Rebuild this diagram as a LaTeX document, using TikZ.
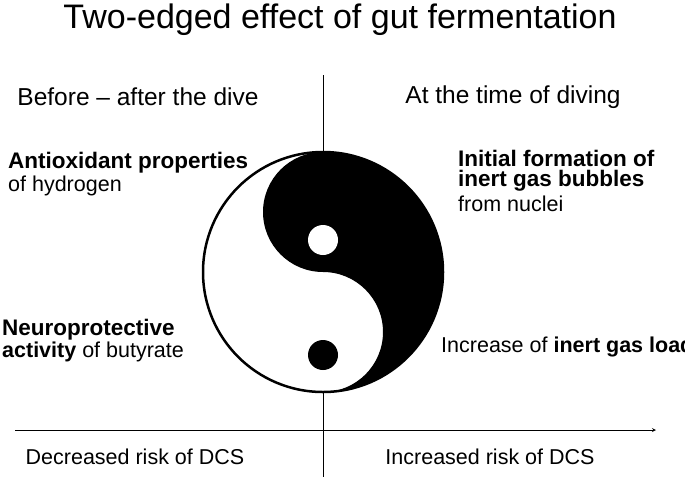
\documentclass[tikz,border=0pt]{standalone}
\usepackage{fontspec}
\setmainfont{Liberation Sans}
\begin{document}
\begin{tikzpicture}[x=1pt,y=-1pt,
  lbl/.style={anchor=west,inner sep=0pt,font=\fontsize{21.5}{24}\selectfont},
  blbl/.style={anchor=west,inner sep=0pt,font=\fontsize{22.5}{24}\selectfont},
  hdr/.style={inner sep=0pt,font=\fontsize{24.5}{28}\selectfont}]
\useasboundingbox (0,0) rectangle (685,477);
\node[inner sep=0pt,font=\fontsize{34}{40}\selectfont] (title) at (340,20) {Two-edged effect of gut fermentation};
\coordinate (vt) at (323,75); \coordinate (vb) at (323,477);
\draw[line width=0.8pt] (vt) -- (vb);
\coordinate (al) at (15,430); \coordinate (ar) at (656,430);
\draw[line width=0.8pt,-stealth] (al) -- (ar);
\node[hdr] (h1) at (138,97) {Before – after the dive};
\node[hdr] (h2) at (513,97) {At the time of diving};
% yin-yang
\coordinate (c) at (323,272);
\fill[white] (c) circle[radius=120];
\fill[black] (323,152) arc[start angle=270,end angle=450,radius=120]
  arc[start angle=90,end angle=-90,radius=60]
  arc[start angle=90,end angle=270,radius=60] -- cycle;
\draw[line width=2.5pt] (c) circle[radius=120];
\fill[white] (323,240) circle[radius=15];
\fill[black] (323,355) circle[radius=15];
\node[blbl] (a1) at (8,163) {\textbf{Antioxidant properties}};
\node[lbl] (a2) at (8,186) {of hydrogen};
\node[blbl] (b1) at (458,158) {\textbf{Initial formation of}};
\node[blbl] (b2) at (458,181) {\textbf{inert gas bubbles}};
\node[lbl] (b3) at (458,204) {from nuclei};
\node[blbl] (n1) at (2,330) {\textbf{Neuroprotective}};
\node[lbl] (n2) at (2,352) {\textbf{activity} of butyrate};
\node[lbl] (i1) at (441,347) {Increase of \textbf{inert gas load}};
\node[inner sep=0pt,font=\fontsize{21.5}{24}\selectfont] (d1) at (135,457) {Decreased risk of DCS};
\node[inner sep=0pt,font=\fontsize{21.5}{24}\selectfont] (d2) at (490,457) {Increased risk of DCS};
\end{tikzpicture}
\end{document}
